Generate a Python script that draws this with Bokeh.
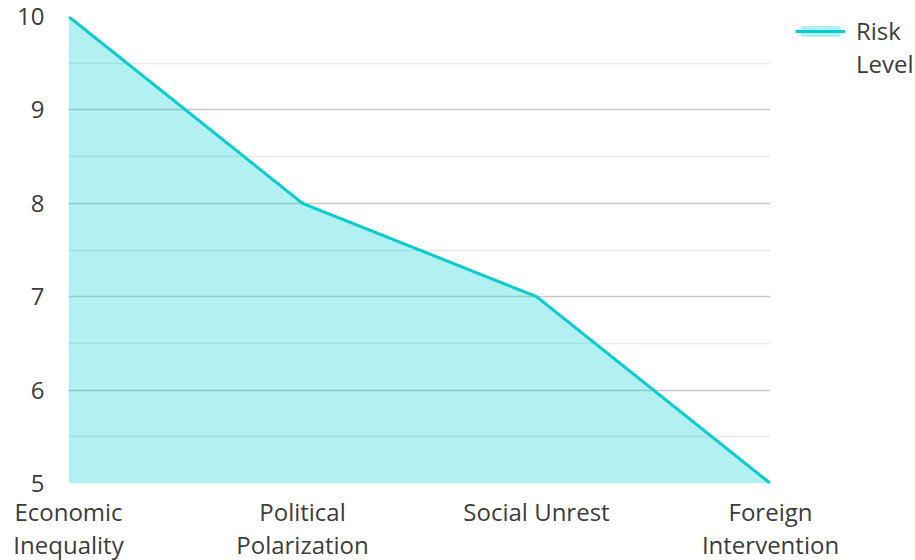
from bokeh.plotting import figure
from bokeh.models import FixedTicker, Legend, LegendItem, Range1d
from bokeh.embed import file_html
from bokeh.resources import INLINE

categories = ["Economic Inequality", "Political Polarization", "Social Unrest", "Foreign Intervention"]
tick_labels = ["Economic\nInequality", "Political\nPolarization", "Social Unrest", "Foreign\nIntervention"]
risk = [10, 8, 7, 5]
series_name = ["Risk", "Level"]
y_ticks = [5, 6, 7, 8, 9, 10]
y_minor = [5.5, 6.5, 7.5, 8.5, 9.5]
xs = list(range(len(categories)))

FONT = "Open Sans"
COLOR = "#00CED1"

p = figure(output_backend="svg", toolbar_location=None,
           frame_width=702, frame_height=467,
           min_border_left=68, min_border_top=16, min_border_bottom=50, min_border_right=20,
           x_range=Range1d(0, 3), y_range=Range1d(5, 10))
p.outline_line_color = None

area = p.varea(x=xs, y1=[5] * len(xs), y2=risk, fill_color=COLOR, fill_alpha=0.3)
line = p.line(x=xs, y=risk, line_color=COLOR, line_width=3)
dummy = p.line(x=[], y=[], line_alpha=0)

p.xaxis.ticker = FixedTicker(ticks=xs)
p.xaxis.major_label_overrides = {i: t for i, t in zip(xs, tick_labels)}
p.yaxis.ticker = FixedTicker(ticks=y_ticks, minor_ticks=y_minor)
for ax in (p.xaxis[0], p.yaxis[0]):
    ax.axis_line_color = None
    ax.major_tick_line_color = None
    ax.minor_tick_line_color = None
    ax.major_label_text_font = FONT
    ax.major_label_text_font_size = "24px"
    ax.major_label_text_color = "#3c3c3c"
    ax.major_label_text_line_height = 1.0
p.xaxis.major_label_standoff = 5
p.yaxis.major_label_standoff = 18

p.xgrid.grid_line_color = None
p.ygrid.grid_line_color = "#c8c8c8"
p.ygrid.grid_line_width = 1.5
p.ygrid.minor_grid_line_color = "#e8e8e8"
p.ygrid.minor_grid_line_width = 1.5

legend = Legend(items=[LegendItem(label=series_name[0], renderers=[area, line]),
                       LegendItem(label=series_name[1], renderers=[dummy])],
                location=(25, 403), border_line_color=None, background_fill_alpha=0,
                label_text_font=FONT, label_text_font_size="24px", label_text_color="#3c3c3c",
                glyph_width=50, glyph_height=14, margin=0, padding=0, label_standoff=11,
                label_height=24, spacing=0)
p.add_layout(legend, "right")

open("out.html", "w").write(file_html(p, INLINE))
